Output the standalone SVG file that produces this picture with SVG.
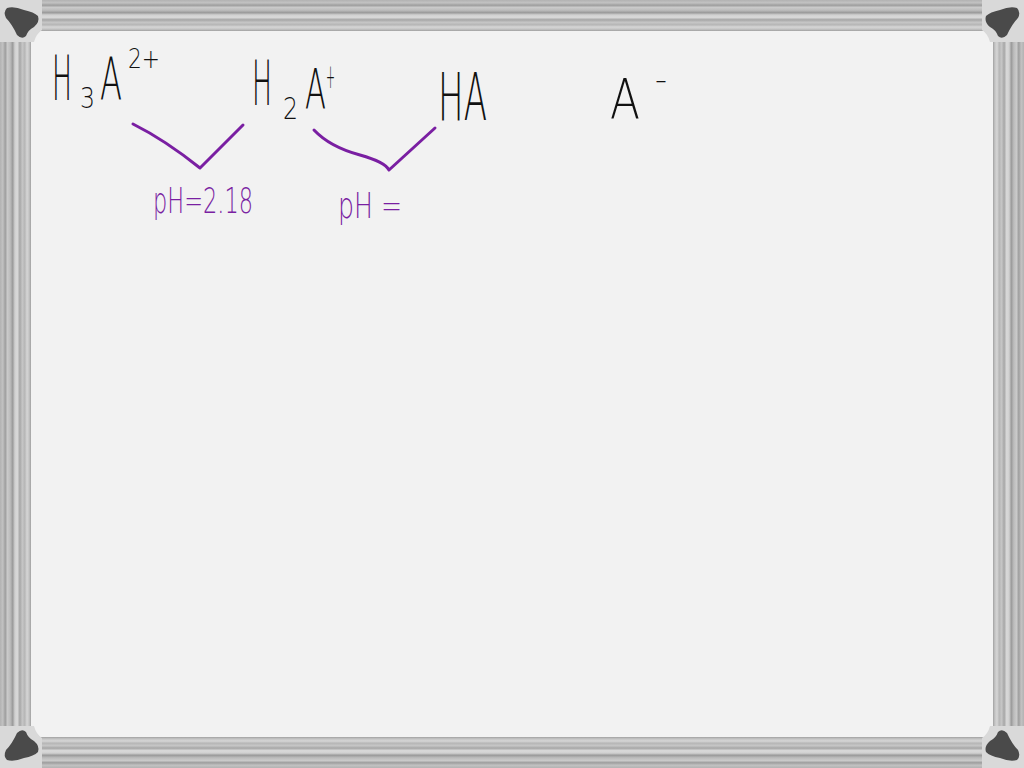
<svg xmlns="http://www.w3.org/2000/svg" width="1024" height="768" viewBox="0 0 1024 768">
<defs>
<linearGradient id="stripe" gradientUnits="userSpaceOnUse" x1="0" y1="0" x2="0" y2="31">
<stop offset="0" stop-color="#b2b2b2"/>
<stop offset="0.09" stop-color="#c2c2c2"/>
<stop offset="0.17" stop-color="#9e9e9e"/>
<stop offset="0.24" stop-color="#cacaca"/>
<stop offset="0.33" stop-color="#bcbcbc"/>
<stop offset="0.41" stop-color="#9a9a9a"/>
<stop offset="0.48" stop-color="#d0d0d0"/>
<stop offset="0.56" stop-color="#dadada"/>
<stop offset="0.64" stop-color="#a6a6a6"/>
<stop offset="0.72" stop-color="#c6c6c6"/>
<stop offset="0.8" stop-color="#b6b6b6"/>
<stop offset="0.87" stop-color="#d6d6d6"/>
<stop offset="0.94" stop-color="#c4c4c4"/>
<stop offset="1" stop-color="#a0a0a0"/>
</linearGradient>
<rect id="bar" x="0" y="0" width="1024" height="31" fill="url(#stripe)"/>
<g id="corner">
<path d="M0 0 H42 V30 Q36 34 34 42 H0 Z" fill="#d9d9d9"/>
<path d="M7 8 Q14 6 24 10 Q34 12 38 16 Q40 22 34 27 Q28 30 26 36 Q22 40 17 35 Q12 24 6 18 Q3 12 7 8 Z" fill="#4a4a4a"/>
</g>
</defs>
<style>
.ink{font-family:"DejaVu Sans","Liberation Sans",sans-serif;font-weight:200;fill:#111}
.pur{font-family:"DejaVu Sans","Liberation Sans",sans-serif;font-weight:200;fill:#7a1fa2}
.br{fill:none;stroke:#7a1fa2;stroke-width:3;stroke-linecap:round;stroke-linejoin:round}
</style>
<rect x="0" y="0" width="1024" height="768" fill="#f2f2f2"/>
<g id="frame">
<use href="#bar"/>
<use href="#bar" transform="matrix(1,0,0,-1,0,768)"/>
<use href="#bar" transform="matrix(0,1,1,0,0,0)"/>
<use href="#bar" transform="matrix(0,1,-1,0,1024,0)"/>
<use href="#corner"/>
<use href="#corner" transform="matrix(-1,0,0,1,1024,0)"/>
<use href="#corner" transform="matrix(1,0,0,-1,0,768)"/>
<use href="#corner" transform="matrix(-1,0,0,-1,1024,768)"/>
</g>
<g id="H3A2plus">
<text class="ink" x="52" y="100" font-size="62" textLength="20" lengthAdjust="spacingAndGlyphs">H</text>
<text class="ink" x="80" y="108" font-size="28" textLength="15" lengthAdjust="spacingAndGlyphs">3</text>
<text class="ink" x="100" y="100" font-size="58" textLength="22" lengthAdjust="spacingAndGlyphs">A</text>
<text class="ink" x="128" y="68" font-size="26" textLength="32" lengthAdjust="spacingAndGlyphs">2+</text>
</g>
<g id="H2Aplus">
<text class="ink" x="252" y="105" font-size="62" textLength="20" lengthAdjust="spacingAndGlyphs">H</text>
<text class="ink" x="283" y="119" font-size="30" textLength="15" lengthAdjust="spacingAndGlyphs">2</text>
<text class="ink" x="305" y="108" font-size="56" textLength="21" lengthAdjust="spacingAndGlyphs">A</text>
<text class="ink" x="326" y="88" font-size="34" textLength="9" lengthAdjust="spacingAndGlyphs">+</text>
</g>
<g id="HA">
<text class="ink" x="438" y="120" font-size="66" textLength="49" lengthAdjust="spacingAndGlyphs">HA</text>
</g>
<g id="Aminus">
<text class="ink" x="610" y="118" font-size="56" textLength="30" lengthAdjust="spacingAndGlyphs">A</text>
<text class="ink" x="655" y="90" font-size="26" textLength="12" lengthAdjust="spacingAndGlyphs">−</text>
</g>
<g id="connectors">
<path class="br" d="M133 124 Q165 140 200 168 L243 125"/>
<path class="br" d="M314 130 Q330 147 360 155 Q385 162 389 170 L435 128"/>
</g>
<g id="pH1">
<text class="pur" x="153" y="213" font-size="36" textLength="100" lengthAdjust="spacingAndGlyphs">pH=2.18</text>
</g>
<g id="pH2">
<text class="pur" x="338" y="218" font-size="36" textLength="64" lengthAdjust="spacingAndGlyphs">pH =</text>
</g>
</svg>
